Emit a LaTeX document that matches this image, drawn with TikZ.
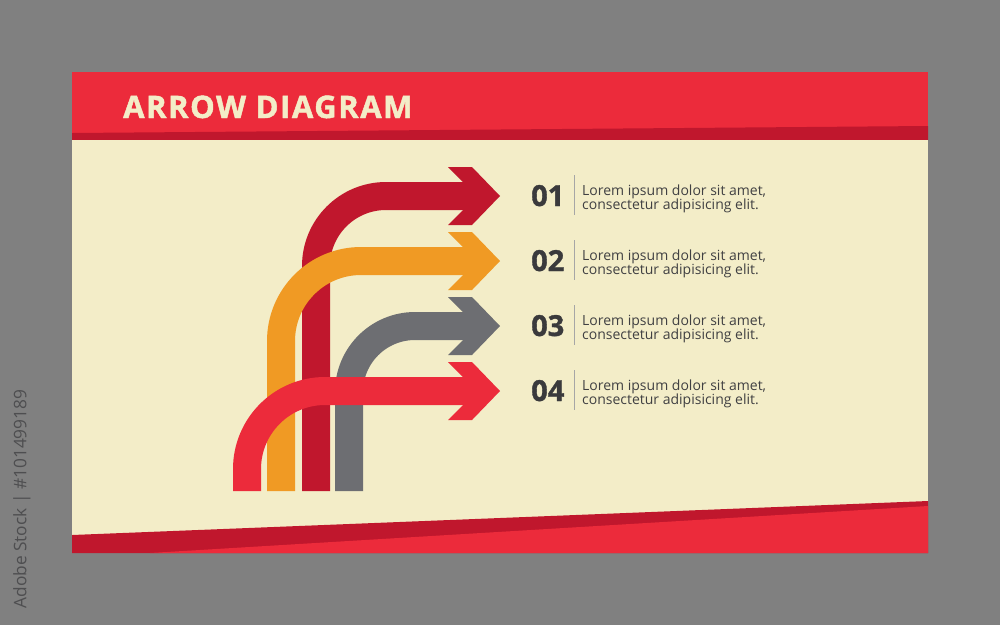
\documentclass[tikz,border=0pt]{standalone}
\usepackage{fontspec}
\setmainfont{Open Sans}
\definecolor{bggray}{HTML}{808080}
\definecolor{hred}{HTML}{EC2B3B}
\definecolor{dred}{HTML}{C0172D}
\definecolor{cream}{HTML}{F3EDC8}
\definecolor{aorange}{HTML}{F09A24}
\definecolor{agray}{HTML}{6D6E72}
\definecolor{numcol}{HTML}{3A3A3C}
\definecolor{txtcol}{HTML}{404042}
\newcommand\myhead[2]{%
  \fill[#2] (448,#1-29) -- (472,#1-29) -- (500,#1) -- (472,#1+29) -- (448,#1+29) -- (463,#1+14) -- (463,#1-14) -- cycle;}
\begin{document}
\begin{tikzpicture}[x=1pt,y=-1pt,
  shaft/.style={line width=28pt,line cap=butt,draw=#1},
  num/.style={anchor=base west,inner sep=0pt,text=numcol,font=\fontsize{29}{29}\selectfont\bfseries\addfontfeature{FakeBold=1.2}},
  body/.style={anchor=base west,inner sep=0pt,text=txtcol,font=\fontsize{14}{14}\selectfont},
  divider/.style={draw=gray!70,line width=0.8pt}]
\useasboundingbox (0,0) rectangle (1000,625);
\fill[bggray] (0,0) rectangle (1000,625);
% card
\fill[hred] (72,72) rectangle (928,140);
\fill[dred] (72,133) -- (928,126) -- (928,140) -- (72,140) -- cycle;
\fill[cream] (72,140) rectangle (928,553);
\fill[dred] (72,535) -- (928,501) -- (928,553) -- (72,553) -- cycle;
\fill[hred] (150,553) -- (928,506) -- (928,553) -- cycle;
\node[anchor=base west,inner sep=0pt,text=cream,font=\fontsize{31}{31}\selectfont\bfseries\addfontfeature{FakeBold=1.5,LetterSpace=5}] (title) at (123,118) {ARROW DIAGRAM};
% arrows
\draw[shaft=dred,rounded corners=70pt] (316,491) -- (316,196) -- (464,196);
\myhead{196}{dred}
\draw[shaft=aorange,rounded corners=80pt] (281,491) -- (281,261) -- (464,261);
\myhead{261}{aorange}
\draw[shaft=agray,rounded corners=66pt] (349,491) -- (349,326) -- (464,326);
\myhead{326}{agray}
\draw[shaft=hred,rounded corners=78pt] (247,491) -- (247,391) -- (464,391);
\myhead{391}{hred}
% text rows
\foreach \n/\c in {01/0,02/1,03/2,04/3}{
  \node[num] (n\n) at (531,206+65*\c) {\n};
  \draw[divider] (574,175+65*\c) -- (574,215+65*\c);
  \node[body] (ta\n) at (582,195+65*\c) {Lorem ipsum dolor sit amet,};
  \node[body] (tb\n) at (582,209.5+65*\c) {consectetur adipisicing elit.};
}
\node[rotate=90,inner sep=0pt,text=numcol!90,font=\fontsize{17.3}{17.3}\selectfont] (wm) at (22,499) {Adobe Stock | \#101499189};
\end{tikzpicture}
\end{document}
